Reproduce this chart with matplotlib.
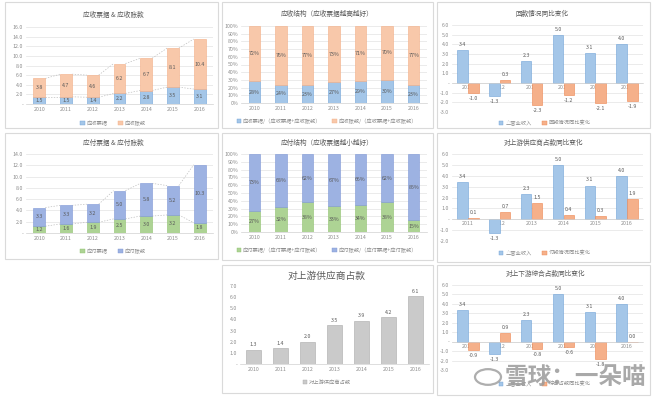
import matplotlib
matplotlib.use("Agg")
import matplotlib.pyplot as plt
from matplotlib.patches import Rectangle, Patch
import numpy as np

plt.rcParams['font.family'] = ['Noto Sans CJK SC', 'DejaVu Sans']

# ---------------- data ----------------
years7 = ['2010', '2011', '2012', '2013', '2014', '2015', '2016']
years6 = ['2011', '2012', '2013', '2014', '2015', '2016']

recv_notes = [1.5, 1.5, 1.4, 2.2, 2.8, 3.5, 3.1]
recv_accts = [3.8, 4.7, 4.6, 6.2, 6.7, 8.1, 10.4]

recv_notes_pct = [28, 24, 23, 27, 29, 30, 23]
recv_accts_pct = [72, 76, 77, 73, 71, 70, 77]

rev_yoy = [3.4, -1.3, 2.3, 5.0, 3.1, 4.0]
collect_yoy = [-1.0, 0.3, -2.3, -1.2, -2.1, -1.9]

pay_notes = [1.2, 1.6, 1.9, 2.5, 3.0, 3.2, 1.8]
pay_accts = [3.3, 3.3, 3.2, 5.0, 5.8, 5.2, 10.3]

pay_notes_pct = [27, 32, 38, 33, 34, 38, 15]
pay_accts_pct = [73, 68, 62, 67, 66, 62, 85]

pay_yoy = [0.1, 0.7, 1.5, 0.4, 0.3, 1.9]

supplier_occupy = [1.3, 1.4, 2.0, 3.5, 3.9, 4.2, 6.1]

combined_yoy = [-0.9, 0.9, -0.8, -0.6, -1.8, 0.0]

titles = ['应收票据 & 应收账款', '应收结构（应收票据越高越好）', '回款情况同比变化',
          '应付票据 & 应付账款', '应付结构（应收票据越小越好）', '对上游供应商占款同比变化',
          '对上游供应商占款', '对上下游综合占款同比变化']

# ---------------- styling ----------------
W, H = 660, 398
fig = plt.figure(figsize=(W / 100, H / 100), dpi=100)
fig.patch.set_facecolor('white')

TXT = '#595959'
TICK = '#8C8C8C'
GRID = '#E3E3E3'
FS = 3.8
TFS = 4.8

BLUE, BLUE_E = '#A4C6E8', '#6FA3D8'
ORG_L, ORG_L_E = '#F8C8AA', '#F3AE86'
ORG, ORG_E = '#F5B08A', '#EE8650'
PBLUE, PBLUE_E = '#9DB2E2', '#7E97D6'
GREEN, GREEN_E = '#ADD394', '#8FC26E'
GRAY, GRAY_E = '#CACACA', '#AAAAAA'


def frame(x0, y0, x1, y1):
    fig.add_artist(Rectangle((x0 / W, 1 - y1 / H), (x1 - x0) / W, (y1 - y0) / H,
                             transform=fig.transFigure, facecolor='white',
                             edgecolor='#DADADA', linewidth=0.8, zorder=0))


def axes_at(x0, y0, x1, y1):
    ax = fig.add_axes([x0 / W, 1 - y1 / H, (x1 - x0) / W, (y1 - y0) / H])
    ax.set_facecolor('none')
    for s in ['top', 'right', 'left']:
        ax.spines[s].set_visible(False)
    ax.spines['bottom'].set_color('#D0D0D0')
    ax.spines['bottom'].set_linewidth(0.5)
    ax.tick_params(axis='both', length=0, labelsize=FS, labelcolor=TICK, pad=2)
    ax.yaxis.grid(True, color=GRID, linewidth=0.5)
    ax.set_axisbelow(True)
    return ax


def title(cx, cy, t, size=TFS):
    fig.text(cx / W, 1 - cy / H, t, ha='center', va='center', fontsize=size, color=TXT)


def legend(ax, cx, cy, items):
    handles = [Patch(facecolor=c, edgecolor=e, linewidth=0.3) for c, e, _ in items]
    labels = [l for _, _, l in items]
    ax.legend(handles, labels, loc='center', bbox_to_anchor=(cx / W, 1 - cy / H),
              bbox_transform=fig.transFigure, ncol=len(items), frameon=False,
              fontsize=FS, handlelength=0.8, handleheight=0.8, handletextpad=0.4,
              columnspacing=2.0, labelcolor=TICK)


def yfmt(ticks, dash_zero=True):
    out = []
    for t in ticks:
        if dash_zero and abs(t) < 1e-9:
            out.append('-')
        else:
            out.append('%.1f' % t)
    return out


def stacked_panel(ax, bottom, top, cb, cbe, ct, cte, ymax, step):
    x = np.arange(len(years7))
    w = 0.44
    ax.bar(x, bottom, w, color=cb, edgecolor=cbe, linewidth=0.4, zorder=2)
    ax.bar(x, top, w, bottom=bottom, color=ct, edgecolor=cte, linewidth=0.4, zorder=2)
    tot = np.array(bottom) + np.array(top)
    for i in range(len(x) - 1):
        ax.plot([x[i] + w / 2, x[i + 1] - w / 2], [bottom[i], bottom[i + 1]],
                ls=(0, (2, 2)), color='#BFBFBF', lw=0.5, zorder=1)
        ax.plot([x[i] + w / 2, x[i + 1] - w / 2], [tot[i], tot[i + 1]],
                ls=(0, (2, 2)), color='#BFBFBF', lw=0.5, zorder=1)
    for i in x:
        ax.text(i, bottom[i] / 2, '%.1f' % bottom[i], ha='center', va='center',
                fontsize=FS, color=TXT, zorder=3)
        ax.text(i, bottom[i] + top[i] / 2, '%.1f' % top[i], ha='center', va='center',
                fontsize=FS, color=TXT, zorder=3)
    ax.set_xlim(-0.5, len(x) - 0.5)
    ax.set_ylim(0, ymax)
    ticks = np.arange(0, ymax + 0.01, step)
    ax.set_yticks(ticks)
    ax.set_yticklabels(yfmt(ticks))
    ax.set_xticks(x)
    ax.set_xticklabels(years7)


def pct_panel(ax, bottom, top, cb, cbe, ct, cte):
    x = np.arange(len(years7))
    w = 0.43
    b = np.array(bottom) / 100
    t = np.array(top) / 100
    ax.bar(x, b, w, color=cb, edgecolor=cbe, linewidth=0.4, zorder=2)
    ax.bar(x, t, w, bottom=b, color=ct, edgecolor=cte, linewidth=0.4, zorder=2)
    for i in x:
        ax.text(i, b[i] / 2, '%d%%' % bottom[i], ha='center', va='center',
                fontsize=FS, color=TXT, zorder=3)
        ax.text(i, b[i] + t[i] / 2, '%d%%' % top[i], ha='center', va='center',
                fontsize=FS, color=TXT, zorder=3)
    ax.set_xlim(-0.5, len(x) - 0.5)
    ax.set_ylim(0, 1)
    ticks = np.arange(0, 1.001, 0.1)
    ax.set_yticks(ticks)
    ax.set_yticklabels(['%d%%' % round(v * 100) for v in ticks])
    ax.set_xticks(x)
    ax.set_xticklabels(years7)


def cluster_panel(ax, a, b, ymin, ymax):
    x = np.arange(len(years6))
    w = 0.33
    ax.bar(x - 0.17, a, w, color=BLUE, edgecolor=BLUE_E, linewidth=0.4, zorder=2)
    ax.bar(x + 0.17, b, w, color=ORG, edgecolor=ORG_E, linewidth=0.4, zorder=2)
    off = (ymax - ymin) * 0.035
    for xs, vals in ((x - 0.17, a), (x + 0.17, b)):
        for xi, v in zip(xs, vals):
            if v >= 0:
                ax.text(xi, v + off, '%.1f' % v, ha='center', va='bottom',
                        fontsize=FS, color=TXT, zorder=3)
            else:
                ax.text(xi, v - off, '%.1f' % v, ha='center', va='top',
                        fontsize=FS, color=TXT, zorder=3)
    ax.set_xlim(-0.5, len(x) - 0.5)
    ax.set_ylim(ymin, ymax)
    ticks = np.arange(ymin, ymax + 0.01, 1.0)
    ax.set_yticks(ticks)
    ax.set_yticklabels(yfmt(ticks))
    ax.set_xticks(x)
    ax.set_xticklabels(years6)
    ax.spines['bottom'].set_position(('data', 0))
    ax.tick_params(axis='x', pad=1.5)


# ---------------- panel frames ----------------
frame(5, 2, 218, 128)
frame(222, 2, 433, 128)
frame(437, 2, 650, 128)
frame(5, 133, 218, 259)
frame(222, 133, 433, 260)
frame(437, 133, 650, 262)
frame(222, 265, 433, 393)
frame(437, 265, 650, 395)

# ---------------- panel 1 ----------------
ax1 = axes_at(26, 27, 213, 104)
stacked_panel(ax1, recv_notes, recv_accts, BLUE, BLUE_E, ORG_L, ORG_L_E, 16, 2)
title(113, 15, titles[0])
legend(ax1, 113, 123, [(BLUE, BLUE_E, '应收票据'), (ORG_L, ORG_L_E, '应收账款')])

# ---------------- panel 2 ----------------
ax2 = axes_at(241, 26, 427, 103)
pct_panel(ax2, recv_notes_pct, recv_accts_pct, BLUE, BLUE_E, ORG_L, ORG_L_E)
title(327, 14, titles[1])
legend(ax2, 327, 121, [(BLUE, BLUE_E, '应收票据/（应收票据+应收账款）'),
                       (ORG_L, ORG_L_E, '应收账款/（应收票据+应收账款）')])

# ---------------- panel 3 ----------------
ax3 = axes_at(452, 25, 643, 112)
cluster_panel(ax3, rev_yoy, collect_yoy, -3, 6)
title(542, 14, titles[2])
legend(ax3, 545, 123, [(BLUE, BLUE_E, '△营业收入'), (ORG, ORG_E, '回款情况同比变化')])

# ---------------- panel 4 ----------------
ax4 = axes_at(26, 154, 213, 233)
stacked_panel(ax4, pay_notes, pay_accts, GREEN, GREEN_E, PBLUE, PBLUE_E, 14, 2)
title(113, 143, titles[3])
legend(ax4, 113, 251, [(GREEN, GREEN_E, '应付票据'), (PBLUE, PBLUE_E, '应付账款')])

# ---------------- panel 5 ----------------
ax5 = axes_at(241, 154, 427, 232)
pct_panel(ax5, pay_notes_pct, pay_accts_pct, GREEN, GREEN_E, PBLUE, PBLUE_E)
title(327, 143, titles[4])
legend(ax5, 327, 250, [(GREEN, GREEN_E, '应付票据/（应付票据+应付账款）'),
                       (PBLUE, PBLUE_E, '应付账款/（应付票据+应付账款）')])

# ---------------- panel 6 ----------------
ax6 = axes_at(452, 154, 643, 241)
cluster_panel(ax6, rev_yoy, pay_yoy, -2, 6)
title(543, 143, titles[5])
legend(ax6, 545, 253, [(BLUE, BLUE_E, '△营业收入'), (ORG, ORG_E, '付款情况同比变化')])

# ---------------- panel 7 ----------------
ax7 = axes_at(240, 286, 429, 364)
x7 = np.arange(len(years7))
ax7.bar(x7, supplier_occupy, 0.55, color=GRAY, edgecolor=GRAY_E, linewidth=0.4, zorder=2)
for i, v in zip(x7, supplier_occupy):
    ax7.text(i, v + 0.2, '%.1f' % v, ha='center', va='bottom', fontsize=FS, color=TXT)
ax7.set_xlim(-0.5, len(x7) - 0.5)
ax7.set_ylim(0, 7)
t7 = np.arange(0, 7.01, 1.0)
ax7.set_yticks(t7)
ax7.set_yticklabels(yfmt(t7))
ax7.set_xticks(x7)
ax7.set_xticklabels(years7)
ax7.yaxis.grid(False)
title(327, 276, titles[6], size=7)
legend(ax7, 327, 382, [(GRAY, GRAY_E, '对上游供应商占款')])

# ---------------- panel 8 ----------------
ax8 = axes_at(452, 285, 643, 370)
cluster_panel(ax8, rev_yoy, combined_yoy, -3, 6)
title(545, 274, titles[7])
legend(ax8, 545, 384, [(BLUE, BLUE_E, '△营业收入'), (ORG, ORG_E, '综合占款同比变化')])

# ---------------- watermark ----------------
fig.add_artist(plt.Circle((488 / W, 1 - 377 / H), 13 / W, transform=fig.transFigure,
                          fill=False, edgecolor='#9A9A9A', linewidth=1.6, alpha=0.8))
fig.text(505 / W, 1 - 377 / H, '雪球：一朵喵', ha='left', va='center',
         fontsize=17, color='#9A9A9A', alpha=0.85, fontweight='bold')

fig.savefig('out.png', dpi=100, facecolor='white')
